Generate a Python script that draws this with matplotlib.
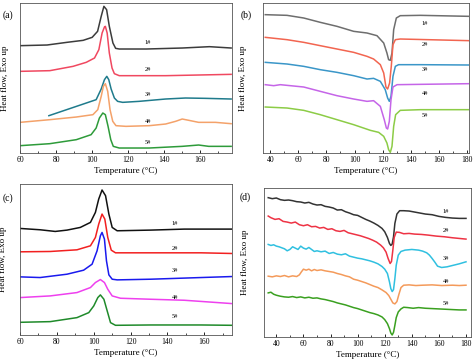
import numpy as np
import matplotlib
matplotlib.use("Agg")
import matplotlib.pyplot as plt
from matplotlib.ticker import MultipleLocator

plt.rcParams['font.family'] = ['Liberation Serif', 'DejaVu Serif']

sample_names = ["1#", "2#", "3#", "4#", "5#"]

# ---- (a) ----
a1_t = [60, 75, 86, 95, 100, 103, 105, 106.5, 108, 109.5, 111.5, 113, 115, 130, 150, 165, 177]
a1_h = [322, 324, 332, 338, 347, 365, 410, 440, 430, 380, 330, 314, 312, 312, 315, 319, 315]
a2_t = [60, 76.5, 89.4, 96.7, 101.3, 103.7, 105.5, 106.8, 107.3, 108.3, 109.5, 111, 112.3, 115, 140.7, 159, 177]
a2_h = [245, 247, 260, 272, 285, 310, 360, 378, 380, 360, 300, 255, 238, 232, 232, 234, 236]
a3_t = [76, 102.2, 105, 106.8, 108.1, 109.2, 110.5, 112.3, 114.1, 116.9, 126, 140.7, 151.7, 162.8, 177]
a3_h = [112, 160, 192, 220, 230, 220, 192, 165, 155, 152, 155, 162, 165, 164, 162]
a4_t = [60, 76.5, 91.2, 100.4, 103.1, 105, 106.2, 107.3, 108.6, 109.9, 111.4, 113.2, 118.7, 131.6, 140.7,
        146.2, 149.9, 153.6, 159, 168.3, 177]
a4_h = [92, 100, 108, 115, 130, 170, 200, 208, 185, 130, 95, 82, 80, 82, 87, 95, 102, 98, 92, 92, 88]
a5_t = [60, 76.5, 91.2, 99.4, 102.2, 104, 105.9, 107.3, 108.8, 110.3, 111.7, 115, 131.6, 149.9, 159, 164.6, 177]
a5_h = [22, 28, 40, 55, 75, 105, 120, 115, 80, 40, 20, 15, 15, 20, 24, 20, 20]

# ---- (b) ----
b1_t = [36.4, 51.9, 63.8, 75.6, 87.5, 99.4, 108.9, 116, 120.8, 123.1, 124.3, 125.5, 126.7, 127.9, 129.8, 132.6, 146.9, 181.8]
b1_h = [415, 413, 405, 392, 380, 365, 360, 352, 330, 300, 280, 278, 300, 370, 405, 412, 413, 410]
b2_t = [36.4, 51.9, 63.8, 75.6, 87.5, 99.4, 108.9, 113.6, 118.4, 120.8, 122.4, 123.6, 125, 126.2, 127.4, 129.1, 132.6, 181.8]
b2_h = [347, 340, 332, 322, 312, 302, 290, 282, 265, 240, 198, 192, 210, 260, 325, 340, 342, 337]
b3_t = [36.4, 51.9, 63.8, 75.6, 87.5, 99.4, 108.9, 113.6, 118.4, 121.9, 123.6, 124.8, 126, 127.4, 129.1, 131.4, 146.9, 181.8]
b3_h = [272, 267, 260, 250, 242, 232, 222, 224, 215, 190, 165, 155, 170, 230, 260, 265, 265, 264]
b4_t = [36.4, 42.4, 47.1, 63.8, 75.6, 87.5, 99.4, 108.9, 113.6, 118.4, 121.2, 122.7, 123.6, 124.8, 126, 127.4, 130.3, 146.9, 181.8]
b4_h = [205, 202, 205, 198, 185, 172, 162, 155, 157, 140, 100, 75, 72, 95, 160, 198, 205, 206, 208]
b5_t = [36.4, 51.9, 63.8, 75.6, 87.5, 99.4, 111.3, 117.2, 120.8, 123.1, 124.3, 125.5, 126.7, 127.9, 129.3, 132.6, 146.9, 181.8]
b5_h = [138, 135, 128, 115, 100, 85, 68, 62, 50, 30, 10, 2, 20, 80, 115, 128, 130, 130]

# ---- (c) ----
c1_t = [60, 70.9, 79.1, 85.5, 92.7, 98.2, 100.9, 102.7, 104.5, 106.4, 108.2, 110, 112.7, 130.9, 149.1, 175]
c1_h = [319, 315, 310, 314, 322, 337, 367, 407, 434, 417, 362, 322, 312, 314, 317, 317]
c2_t = [60, 76.4, 90.9, 98.2, 100.9, 102.7, 104.5, 106, 107.6, 109.5, 111.8, 130.9, 158.2, 175]
c2_h = [249, 250, 255, 267, 292, 332, 362, 347, 292, 254, 246, 246, 246, 244]
c3_t = [60, 70.9, 85.5, 94.5, 99.1, 101.8, 103.6, 104.5, 105.8, 106.9, 108.2, 110, 112.7, 130.9, 158.2, 175]
c3_h = [174, 172, 182, 194, 212, 252, 297, 307, 287, 222, 180, 167, 165, 167, 172, 175]
c4_t = [60, 76.4, 90.9, 98.2, 100.9, 103.6, 105.8, 107.6, 110, 114.5, 130.9, 149.1, 175]
c4_h = [112, 117, 127, 142, 157, 166, 157, 137, 117, 110, 107, 104, 94]
c5_t = [60, 76.4, 90.9, 97.3, 100, 102.2, 103.6, 105.5, 107.3, 109.1, 111.8, 130.9, 158.2, 175]
c5_h = [38, 40, 52, 67, 87, 112, 120, 107, 72, 37, 29, 30, 30, 29]

# ---- (d) ----
d1_t = [34, 37, 40, 43, 46, 49, 52, 55, 58, 61, 64, 67, 70, 73, 76, 79, 82, 85, 88, 91, 94, 97, 100, 103, 106,
        109, 112, 115, 118, 120, 122, 123.5, 124.5, 125.5, 126.5, 127.5, 129, 131, 134, 138, 142, 146, 150,
        155, 160, 165, 170, 175, 180]
d1_h = [417, 414, 416, 411, 409, 410, 408, 405, 404, 401, 403, 398, 395, 396, 391, 389, 386, 380, 381, 375,
        371, 366, 364, 358, 352, 347, 341, 334, 325, 315, 298, 280, 274, 278, 300, 340, 368, 378, 378, 377,
        374, 371, 368, 366, 361, 358, 356, 355, 355]
d2_t = [34, 36, 39, 42, 45, 48, 51, 54, 57, 60, 63, 66, 69, 72, 75, 78, 81, 84, 87, 90, 93, 96, 99, 102, 105,
        108, 111, 114, 117, 119, 121, 122.5, 124, 125, 126, 127, 128.5, 131, 134, 138, 142, 147, 152, 158,
        164, 170, 175, 180]
d2_h = [362, 357, 352, 354, 346, 344, 341, 344, 336, 333, 336, 330, 331, 326, 328, 322, 324, 318, 316, 319,
        312, 309, 306, 303, 299, 295, 290, 284, 275, 267, 254, 235, 220, 226, 260, 298, 314, 313, 309, 310,
        308, 307, 305, 302, 300, 297, 295, 293]
d3_t = [34, 36, 38, 40, 42, 44, 46, 48, 50, 52, 54, 56, 58, 60, 62, 64, 66, 68, 70, 73, 76, 79, 82, 85, 88,
        91, 94, 97, 100, 103, 106, 109, 112, 115, 118, 120, 122, 123.5, 124.5, 125.5, 126.5, 127.5, 128.5,
        130, 132, 135, 140, 145, 148, 151, 153, 155, 157, 159, 162, 166, 170, 175, 180]
d3_h = [277, 274, 276, 272, 270, 267, 264, 258, 262, 270, 266, 262, 272, 266, 263, 268, 262, 256, 258, 255,
        257, 250, 253, 248, 246, 249, 242, 239, 236, 234, 231, 228, 224, 219, 211, 203, 190, 165, 145, 136,
        142, 175, 215, 245, 256, 260, 262, 260, 257, 252, 245, 235, 224, 212, 208, 210, 214, 219, 225]
d4_t = [34, 37, 40, 43, 46, 49, 52, 55, 57, 58.5, 60, 62, 64, 66, 68, 70, 73, 76, 79, 82, 85, 88, 91, 94, 97,
        100, 103, 106, 109, 112, 115, 118, 121, 123, 124.5, 126, 127.5, 129, 130.5, 132, 134, 138, 143, 148,
        155, 162, 170, 175, 180]
d4_h = [182, 180, 183, 181, 184, 180, 183, 181, 186, 195, 203, 200, 203, 198, 202, 199, 201, 198, 196, 194,
        190, 187, 183, 180, 173, 170, 166, 162, 157, 152, 148, 141, 133, 124, 113, 102, 99, 106, 128, 148,
        155, 156, 154, 155, 156, 154, 155, 154, 155]
d5_t = [34, 36, 38, 40, 43, 46, 49, 52, 55, 58, 61, 64, 67, 70, 73, 76, 79, 82, 85, 88, 91, 94, 97, 100, 103,
        106, 109, 112, 115, 118, 120, 122, 123.5, 124.5, 125.5, 126.5, 127.5, 128.5, 130, 132, 134, 137, 141,
        145, 150, 155, 160, 165, 170, 175, 180]
d5_h = [132, 134, 128, 125, 122, 120, 119, 121, 118, 120, 117, 119, 116, 117, 114, 112, 109, 106, 102, 99,
        96, 92, 88, 85, 81, 77, 73, 70, 66, 60, 52, 40, 25, 12, 6, 14, 35, 58, 75, 84, 89, 88, 86, 88, 86,
        85, 84, 83, 82, 81, 81]

a_colors = ["#3c3c3c", "#f04860", "#1f7b8c", "#f4a26a", "#2e9b3a"]
b_colors = ["#6e6e6e", "#f26550", "#3a96c8", "#c565e8", "#8ccc46"]
c_colors = ["#111111", "#f22020", "#1a1aee", "#ee40ee", "#1f8a2a"]
d_colors = ["#333333", "#ee3344", "#30c0e0", "#f49a5a", "#3aa020"]

a_lab_x, a_lab_y = 131, [332, 252, 176, 96, 32]
b_lab_x, b_lab_y = 150, [390, 326, 250, 180, 114]
c_lab_x, c_lab_y = 144, [334, 260, 192, 112, 56]
d_lab_x, d_lab_y = 165, [377, 319, 235, 167, 100]

panels = [
    ("(a)", [0.0422, 0.5773, 0.4473, 0.4144], (60, 177.5), 450, range(60, 180, 20),
     [(a1_t, a1_h), (a2_t, a2_h), (a3_t, a3_h), (a4_t, a4_h), (a5_t, a5_h)], a_colors, a_lab_x, a_lab_y,
     -0.052, (0.005, 0.958)),
    ("(b)", [0.5549, 0.5773, 0.4346, 0.4144], (34.8, 181.6), 450, range(40, 200, 20),
     [(b1_t, b1_h), (b2_t, b2_h), (b3_t, b3_h), (b4_t, b4_h), (b5_t, b5_h)], b_colors, b_lab_x, b_lab_y,
     -0.078, (0.507, 0.958)),
    ("(c)", [0.0422, 0.0746, 0.4473, 0.4171], (60, 175), 452, range(60, 180, 20),
     [(c1_t, c1_h), (c2_t, c2_h), (c3_t, c3_h), (c4_t, c4_h), (c5_t, c5_h)], c_colors, c_lab_x, c_lab_y,
     -0.061, (0.005, 0.452)),
    ("(d)", [0.557, 0.0691, 0.4367, 0.4116], (30.9, 183.7), 446, range(40, 200, 20),
     [(d1_t, d1_h), (d2_t, d2_h), (d3_t, d3_h), (d4_t, d4_h), (d5_t, d5_h)], d_colors, d_lab_x, d_lab_y,
     -0.072, (0.505, 0.455)),
]

fig = plt.figure(figsize=(4.74, 3.62), dpi=100)

for tag, rect, xlim, ytop, xticks, curves, colors, lab_x, lab_y, ylab_x, tag_pos in panels:
    ax = fig.add_axes(rect)
    for (t, h), col, name, ly in zip(curves, colors, sample_names, lab_y):
        ax.plot(t, h, color=col, lw=1.1)
        ax.text(lab_x, ly, name, fontsize=4.6, ha='center', va='center')
    ax.set_xlim(*xlim)
    ax.set_ylim(0, ytop)
    ax.set_xticks(list(xticks))
    ax.xaxis.set_minor_locator(MultipleLocator(10))
    ax.set_yticks([])
    ax.tick_params(axis='x', which='major', direction='in', length=2.5, width=0.6, labelsize=5.5, pad=2.5)
    ax.tick_params(axis='x', which='minor', direction='in', length=1.5, width=0.5)
    for sp in ax.spines.values():
        sp.set_linewidth(0.6)
        sp.set_color('#555555')
    ax.set_xlabel("Temperature (°C)", fontsize=6.5, labelpad=2)
    ax.set_ylabel("Heat flow, Exo up", fontsize=6.5)
    ax.yaxis.set_label_coords(ylab_x, 0.5)
    fig.text(tag_pos[0], tag_pos[1], tag, fontsize=7, ha='left', va='center')

fig.savefig("out.png", dpi=100)
